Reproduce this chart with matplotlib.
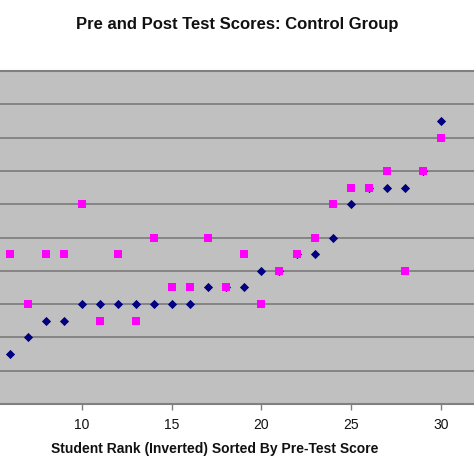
import matplotlib
matplotlib.use("Agg")
import matplotlib.pyplot as plt

students = list(range(6, 31))
pre_scores = [15, 20, 25, 25, 30, 30, 30, 30, 30, 30, 30, 35, 35, 35, 40, 40,
              45, 45, 50, 60, 65, 65, 65, 70, 85]
post_scores = [45, 30, 45, 45, 60, 25, 45, 25, 50, 35, 35, 50, 35, 45, 30, 40,
               45, 50, 60, 65, 65, 70, 40, 70, 80]
x_ticks = [10, 15, 20, 25, 30]

title = "Pre and Post Test Scores: Control Group"
xlabel = "Student Rank (Inverted) Sorted By Pre-Test Score"

plt.rcParams['font.family'] = ['Liberation Sans', 'DejaVu Sans']

fig = plt.figure(figsize=(4.74, 4.74), dpi=100)
ax = fig.add_axes([0.0, 70 / 474, 1.0, 333 / 474])
ax.set_facecolor('#C0C0C0')

ax.scatter(students, pre_scores, marker='D', s=22, color='#000080', zorder=3, linewidths=0)
ax.scatter(students, post_scores, marker='s', s=40, color='#FF00FF', zorder=4, linewidths=0)

ax.set_xlim(5.43, 31.84)
ax.set_ylim(0, 100)
ax.set_yticks(range(0, 101, 10))
ax.yaxis.grid(True, color='#808080', linewidth=1.3)
ax.set_axisbelow(True)
ax.tick_params(axis='y', left=False, labelleft=False)
ax.set_xticks(x_ticks)
ax.tick_params(axis='x', direction='out', length=4, color='#808080', width=1,
               labelsize=10, pad=6, labelcolor='#111111')
for s in ['left', 'right']:
    ax.spines[s].set_visible(False)
ax.spines['top'].set_color('#808080')
ax.spines['top'].set_linewidth(1.5)
ax.spines['bottom'].set_color('#808080')
ax.spines['bottom'].set_linewidth(1.5)

fig.text(237 / 474, 1 - 24 / 474, title, ha='center', va='center',
         fontsize=12, fontweight='bold', color='#111111')
fig.text(215 / 474, 1 - 449 / 474, xlabel, ha='center', va='center',
         fontsize=10, fontweight='bold', color='#111111')

fig.savefig('out.png', dpi=100)
